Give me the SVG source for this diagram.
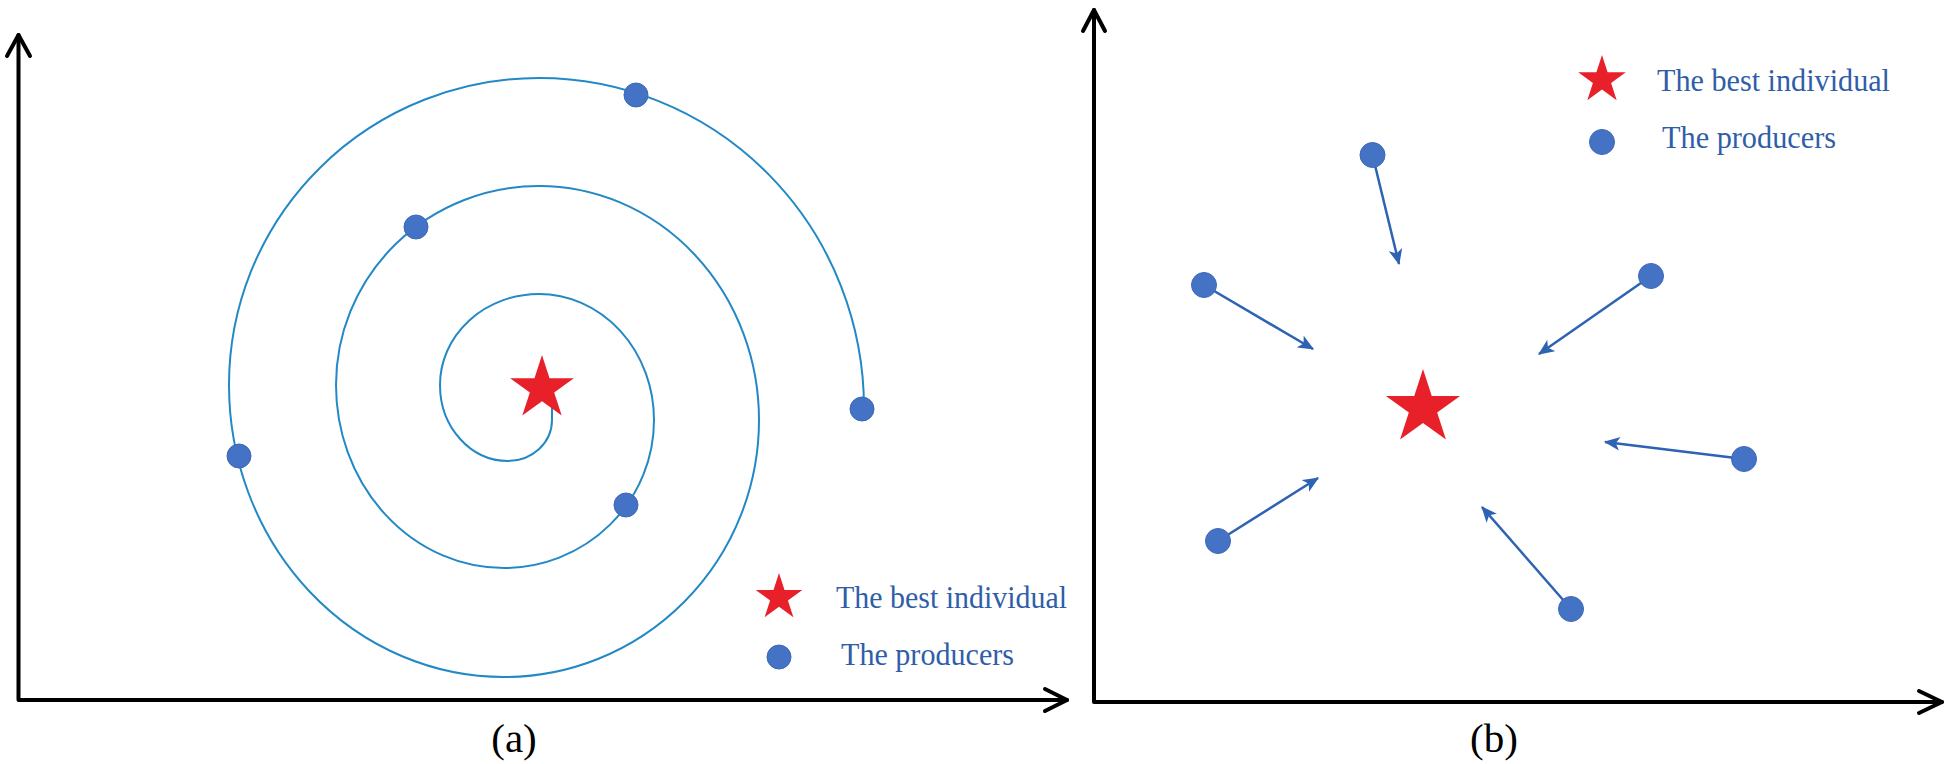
<svg xmlns="http://www.w3.org/2000/svg" xmlns:xlink="http://www.w3.org/1999/xlink" width="1950" height="764" viewBox="0 0 1950 764">
  <style>
    .axis { fill: none; stroke: #000; stroke-width: 4; stroke-linecap: round; stroke-linejoin: round; }
    .spiral { fill: none; stroke: #2389C6; stroke-width: 2; }
    .dot { fill: #4472C4; stroke: #3E68B6; stroke-width: 1; }
    .star { fill: #E8202A; }
    .arrow { fill: none; stroke: #2E62B2; stroke-width: 2.5; marker-end: url(#head); }
    .legend { font-family: "Liberation Serif", "Times New Roman", serif; font-size: 32px; fill: #2F5EA8; }
    .caption { font-family: "Liberation Serif", "Times New Roman", serif; font-size: 41px; fill: #000; text-anchor: middle; }
  </style>
  <defs>
    <path id="starShape" d="M0,-1 L0.2245,-0.309 L0.9511,-0.309 L0.3633,0.118 L0.5878,0.809 L0,0.382 L-0.5878,0.809 L-0.3633,0.118 L-0.9511,-0.309 L-0.2245,-0.309 Z"/>
    <marker id="head" markerUnits="userSpaceOnUse" markerWidth="16" markerHeight="14" viewBox="0 0 14 12" refX="13" refY="6" orient="auto">
      <path d="M0,0 L14,6 L0,12 L3.5,6 Z" fill="#2E62B2"/>
    </marker>
  </defs>

  <!-- Panel (a) -->
  <g id="axes-a">
    <path class="axis" d="M18.5,35 L18.5,700 L1067,700"/>
    <path class="axis" d="M7,56 L18.5,35 L30,56"/>
    <path class="axis" d="M1045,689 L1067,700 L1045,711"/>
  </g>

  <g id="connectors">
    <path id="spiral" class="spiral" d="M552,405 L552,420 A44,41 0 0 1 508,461 A68,76 0 0 1 440,385 A99,91 0 0 1 539,294 A115,126 0 0 1 654,420 A150,148 0 0 1 504,568 A168,183 0 0 1 336,385 A203,199 0 0 1 539,186 A220,234 0 0 1 759,420 A255,257 0 0 1 504,677 A275,292 0 0 1 229,385 A310,307 0 0 1 539,78 A325,330 0 0 1 864,408"/>
    <line class="arrow" x1="1372.5" y1="155" x2="1399" y2="264"/>
    <line class="arrow" x1="1204" y1="285" x2="1313" y2="349"/>
    <line class="arrow" x1="1651" y1="276" x2="1539" y2="354"/>
    <line class="arrow" x1="1744" y1="459" x2="1605" y2="442"/>
    <line class="arrow" x1="1218" y1="541" x2="1318" y2="478"/>
    <line class="arrow" x1="1571" y1="609" x2="1482" y2="507"/>
  </g>

  <g id="best-a"><use xlink:href="#starShape" href="#starShape" class="star" transform="translate(542,388.5) scale(33.5)"/></g>
  <g id="producer-a1"><circle class="dot" cx="636" cy="95" r="12"/></g>
  <g id="producer-a2"><circle class="dot" cx="416" cy="227" r="12"/></g>
  <g id="producer-a3"><circle class="dot" cx="239" cy="456" r="12"/></g>
  <g id="producer-a4"><circle class="dot" cx="626" cy="505" r="12"/></g>
  <g id="producer-a5"><circle class="dot" cx="862" cy="409" r="12"/></g>

  <g id="legend-a">
    <use xlink:href="#starShape" href="#starShape" class="star" transform="translate(779,597.5) scale(24.5)"/>
    <text class="legend" x="836" y="608" textLength="231" lengthAdjust="spacingAndGlyphs">The best individual</text>
    <circle class="dot" cx="779" cy="657" r="12"/>
    <text class="legend" x="841" y="665" textLength="173" lengthAdjust="spacingAndGlyphs">The producers</text>
  </g>
  <g id="caption-a"><text class="caption" x="514" y="752">(a)</text></g>

  <!-- Panel (b) -->
  <g id="axes-b">
    <path class="axis" d="M1094,10 L1094,702 L1942,702"/>
    <path class="axis" d="M1083,31 L1094,10 L1105,31"/>
    <path class="axis" d="M1919,691 L1942,702 L1919,713"/>
  </g>

  <g id="best-b"><use xlink:href="#starShape" href="#starShape" class="star" transform="translate(1423,408) scale(39)"/></g>
  <g id="producer-b1"><circle class="dot" cx="1372.5" cy="155" r="12.5"/></g>
  <g id="producer-b2"><circle class="dot" cx="1204" cy="285" r="12.5"/></g>
  <g id="producer-b3"><circle class="dot" cx="1651" cy="276" r="12.5"/></g>
  <g id="producer-b4"><circle class="dot" cx="1744" cy="459" r="12.5"/></g>
  <g id="producer-b5"><circle class="dot" cx="1218" cy="541" r="12.5"/></g>
  <g id="producer-b6"><circle class="dot" cx="1571" cy="609" r="12.5"/></g>

  <g id="legend-b">
    <use xlink:href="#starShape" href="#starShape" class="star" transform="translate(1602,80) scale(25)"/>
    <text class="legend" x="1657" y="91" textLength="233" lengthAdjust="spacingAndGlyphs">The best individual</text>
    <circle class="dot" cx="1602" cy="142" r="12.5"/>
    <text class="legend" x="1662" y="148" textLength="174" lengthAdjust="spacingAndGlyphs">The producers</text>
  </g>
  <g id="caption-b"><text class="caption" x="1494" y="752">(b)</text></g>
</svg>
